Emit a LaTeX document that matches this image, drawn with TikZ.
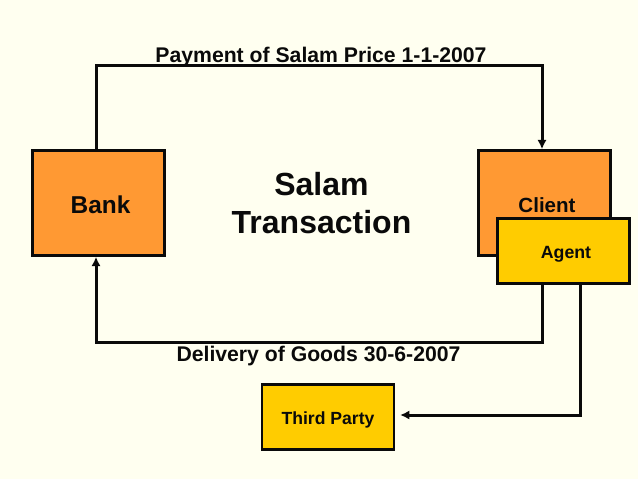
\documentclass[tikz,border=0pt]{standalone}
\usepackage{fontspec}
\setmainfont{Liberation Sans}
\usetikzlibrary{arrows.meta}
\definecolor{bgc}{RGB}{255,255,240}
\definecolor{orangec}{RGB}{255,153,51}
\definecolor{yellowc}{RGB}{255,204,0}
\definecolor{inkc}{RGB}{10,10,10}
\tikzset{
  x=0.75pt,y=-0.75pt,
  boxbase/.style={draw=inkc,line width=2.2pt,minimum width=99pt,inner sep=0pt,text=inkc,font=\bfseries},
  orangebox/.style={boxbase,fill=orangec,minimum height=78.5pt},
  yellowbox/.style={boxbase,fill=yellowc,minimum height=49pt},
  link/.style={draw=inkc,line width=2.25pt,line join=miter},
  arrowlink/.style={link,-{Latex[length=7pt,width=7pt]}},
  caption/.style={inner sep=0pt,text=inkc,font=\fontsize{15.9}{19}\selectfont\bfseries},
}
\begin{document}
\begin{tikzpicture}
\useasboundingbox[fill=bgc] (0,0) rectangle (638,479);
\node[orangebox] (bank) at (98.5,203) {};
\node[inner sep=0pt,text=inkc,font=\fontsize{18.3}{22}\selectfont\bfseries] (banklabel) at (100.5,205) {Bank};
\node[orangebox] (client) at (544.5,203) {};
\node[inner sep=0pt,text=inkc,font=\fontsize{15.4}{18}\selectfont\bfseries] (clientlabel) at (547,205.5) {Client};
\node[yellowbox] (agent) at (563.5,251) {};
\node[inner sep=0pt,text=inkc,font=\fontsize{13.3}{16}\selectfont\bfseries] (agentlabel) at (566,254) {Agent};
\node[yellowbox] (third) at (328,417) {};
\node[inner sep=0pt,text=inkc,font=\fontsize{13.2}{16}\selectfont\bfseries] (thirdlabel) at (328,419.5) {Third Party};
\node[inner sep=0pt,align=center,text=inkc,font=\fontsize{24}{28.5}\selectfont\bfseries] (title) at (321.5,203) {Salam\\Transaction};
\node[caption] (pay) at (321,57) {Payment of Salam Price 1-1-2007};
\node[caption] (deliv) at (318.5,356) {Delivery of Goods 30-6-2007};
\coordinate (tl) at (96,65);
\coordinate (tr) at (542,65);
\coordinate (bl) at (96,342);
\coordinate (br) at (542,342);
\coordinate (rc) at (580,415);
\draw[arrowlink] (bank.north -| tl) -- (tl) -- (tr) -- (client.north -| tr);
\draw[arrowlink] (agent.south -| br) -- (br) -- (bl) -- (bank.south -| bl);
\draw[arrowlink,shorten >=3.5pt] (agent.south -| rc) -- (rc) -- (third.east |- rc);
\end{tikzpicture}
\end{document}
